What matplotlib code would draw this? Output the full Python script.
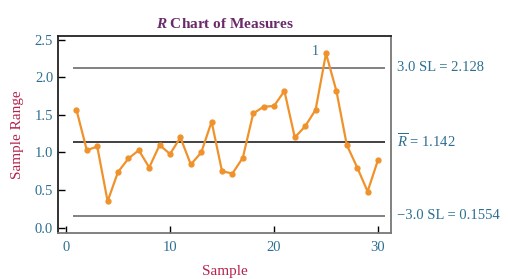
import matplotlib.pyplot as plt
import numpy as np

plt.rcParams['font.family'] = ['Liberation Serif', 'DejaVu Serif']
plt.rcParams['mathtext.fontset'] = 'custom'
plt.rcParams['mathtext.rm'] = 'Liberation Serif'
plt.rcParams['mathtext.it'] = 'Liberation Serif:italic'
plt.rcParams['mathtext.bf'] = 'Liberation Serif:italic:bold'

# sample ranges
samples = list(range(1, 31))
ranges = [1.57, 1.03, 1.08, 0.35, 0.74, 0.92, 1.03, 0.80, 1.10, 0.98,
          1.20, 0.84, 1.00, 1.41, 0.75, 0.72, 0.93, 1.52, 1.61, 1.62,
          1.82, 1.20, 1.35, 1.57, 2.32, 1.82, 1.10, 0.80, 0.48, 0.90]
ucl = 2.128
center = 1.142
lcl = 0.1554
limit_labels = ['3.0 SL = 2.128', r'$\overline{R}$ = 1.142', '\u22123.0 SL = 0.1554']

orange = '#F0922B'
teal = '#2C6F91'
crimson = '#B5234E'
purple = '#6A2A6A'

fig = plt.figure(figsize=(5.08, 2.79), dpi=100)
ax = fig.add_axes([0.1142, 0.1649, 0.6555, 0.7061])

ax.hlines([ucl, lcl], 0.7, 30.7, color='#777777', lw=1.3)
ax.hlines(center, 0.7, 30.7, color='#333333', lw=1.3)
ax.plot(samples, ranges, color=orange, lw=1.6, marker='o', ms=3.5, zorder=3)

# out of control point flag
i_out = int(np.argmax(ranges))
ax.annotate('1', (samples[i_out], ranges[i_out]), xytext=(-8, -3),
            textcoords='offset points', ha='center', va='bottom',
            color=teal, fontsize=10)

for val, lab in zip([ucl, center, lcl], limit_labels):
    ax.text(1.018, val, lab, transform=ax.get_yaxis_transform(),
            ha='left', va='center', color=teal, fontsize=10.5, clip_on=False)

ax.set_xlim(-0.77, 31.25)
ax.set_ylim(-0.073, 2.553)
ax.set_xticks([0, 10, 20, 30])
ax.set_yticks([0.0, 0.5, 1.0, 1.5, 2.0, 2.5])
ax.set_yticklabels(['0.0', '0.5', '1.0', '1.5', '2.0', '2.5'])
ax.tick_params(direction='in', length=5, width=1, colors='black',
               labelcolor=teal, labelsize=10.5)
ax.tick_params(axis='x', pad=6)

for s in ['top', 'left']:
    ax.spines[s].set_color('#222222')
for s in ['right', 'bottom']:
    ax.spines[s].set_color('#777777')
for s in ax.spines.values():
    s.set_linewidth(1.3)

ax.set_title(r'$\mathbf{R}$ Chart of Measures', color=purple,
             fontsize=11, fontweight='bold', pad=6)
ax.set_xlabel('Sample', color=crimson, fontsize=11, labelpad=8)
ax.set_ylabel('Sample Range', color=crimson, fontsize=11, labelpad=8)

fig.savefig('out.png', dpi=100)
